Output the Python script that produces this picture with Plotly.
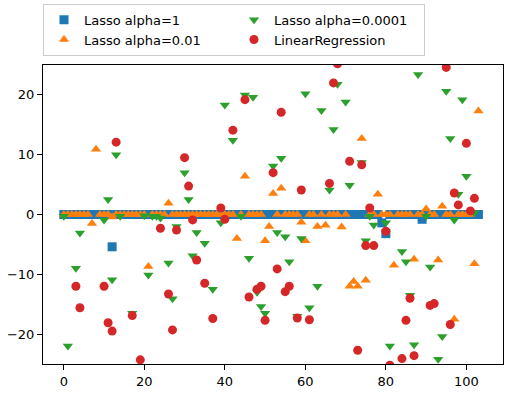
import plotly.graph_objects as go

N = None

# Coefficient values per feature index
lasso1_coef = [
    0, 0, 0, 0, 0, 0, 0, 0, 0, 0,
    0, 0, -5.4, 0, 0, 0, 0, 0, 0, 0,
    0, 0, 0, 0, 0, 0, 0, 0, 0, 0,
    0, 0, 0, 0, 0, 0, 0, 0, 0, 0,
    0, 0, 0, 0, 0, 0, 0, 0, 0, 0,
    0, 0, 0, 0, 0, 0, 0, 0, 0, 0,
    0, 0, 0, 0, 0, 0, 0, 0, 0, 0,
    0, 0, 0, 0, 0, 0, 0, 0, 0, -1.4,
    -3.2, 0, 0, 0, 0, 0, 0, 0, 0, -0.8,
    0, 0, 0, 0, 0, 0, 0, 0, 0, 0,
    0, 0, 0, 0,
]

lasso001_coef = [
    0, 0, 0, 0, 0, 0, 0, -1.5, 10.9, 0,
    0, 0, -0.4, 0, 0, 0, 0, 0, 0, 0,
    0, -8.7, 0, 0, 0, 0, 1.9, 0, 0, 0,
    0, 0, 0, 0, 0, 0, 0, 0, 0, 0,
    0, 0, 0, -4.0, 0, 6.4, 0, 0, 0, 0,
    -4.4, -2.0, 3.5, 0, 4.4, 0, 0, 0, 0, -1.3,
    -4.4, 0, 0, -2.0, 0, -1.8, 0, 0, 0, -2.1,
    0, -12.0, -11.2, -12.0, 12.7, -11.0, 0, 0, 3.4, 0,
    0, 0, -8.5, 0, 0, 0, 0, -7.5, 0, 0,
    0.9, 0, 0, -7.6, 1.4, 0, 0, -17.5, 0, 0,
    0, 0, -8.25, 17.3,
]

lasso00001_coef = [
    -0.3, -22.0, N, -9.0, -3.1, N, N, N, N, N,
    -0.9, 2.5, -10.9, 10.0, -0.3, N, N, -16.5, N, N,
    -0.2, -10.1, -0.3, -0.3, -0.6, N, -8.1, -14.1, -2.0, N,
    7.0, 2.5, -6.9, -3.0, N, -4.8, N, -12.5, N, -1.4,
    18.3, N, 12.4, N, -0.3, 20.0, -7.3, 19.6, -13.0, -15.4,
    -16.5, N, 8.1, -3.0, 9.4, -3.7, -7.9, N, -17.0, -4.0,
    20.2, -15.6, N, -12.0, 17.4, N, 4.1, 14.2, 21.8, N,
    18.8, 4.9, N, N, 8.7, -4.4, -0.3, -1.75, N, N,
    -1.4, -22.0, N, N, -6.2, -7.9, -13.5, -21.8, 23.4, N,
    -0.3, -8.8, N, -24.2, -20.4, 20.6, 12.7, -0.9, 3.4, 19.2,
    6.4, N, 0.3, N,
]

lr_coef = [
    N, N, N, -12.0, -15.6, N, N, N, N, N,
    -12.0, -18.1, -19.5, 12.1, N, N, N, -16.9, N, -24.3,
    N, N, N, N, -2.3, N, -13.3, -19.3, -2.6, N,
    9.5, 4.75, -0.9, -7.6, N, -11.5, N, -17.4, N, 1.1,
    -0.8, N, 14.1, N, N, 19.2, -13.8, N, -12.5, -12.0,
    -17.7, N, 7.0, -9.1, 17.1, -12.9, -12.0, N, -17.3, 4.1,
    N, -17.6, N, N, N, N, 5.2, 22.0, 25.2, N,
    N, 8.9, N, -22.7, 8.3, -5.2, 1.1, -5.2, N, N,
    -2.8, -25.2, N, N, -24.1, -17.7, -14.0, -23.6, N, N,
    N, -15.2, -14.9, N, N, 24.6, -18.4, 3.6, 1.6, N,
    11.9, 0.6, 2.7, N,
]

feature_index = list(range(len(lr_coef)))

x_ticks = [0, 20, 40, 60, 80, 100]
y_ticks = [-20, -10, 0, 10, 20]

series = [
    ("Lasso alpha=1", lasso1_coef, "square", "#1f77b4", 9, 1),
    ("Lasso alpha=0.01", lasso001_coef, "triangle-up", "#ff7f0e", 9, 3),
    ("Lasso alpha=0.0001", lasso00001_coef, "triangle-down", "#2ca02c", 9, 2),
    ("LinearRegression", lr_coef, "circle", "#d62728", 9, 4),
]

fig = go.Figure()
for name, vals, sym, col, sz, rank in series:
    fig.add_trace(go.Scatter(
        x=feature_index, y=vals, mode="markers", name=name,
        marker=dict(symbol=sym, size=sz, color=col, line=dict(width=0)),
        legendrank=rank,
    ))

font = dict(family="DejaVu Sans", size=13, color="black")

fig.update_layout(
    width=511, height=395, autosize=False,
    margin=dict(l=43, r=8, t=65, b=31, pad=0, autoexpand=False),
    paper_bgcolor="white", plot_bgcolor="white",
    font=font,
    showlegend=True,
    legend=dict(
        orientation="h", x=0, xanchor="left", y=1.205, yanchor="top",
        bgcolor="white", bordercolor="#cccccc", borderwidth=1,
        entrywidth=145, entrywidthmode="pixels",
        traceorder="normal", font=font,
    ),
    xaxis=dict(
        range=[-5.17, 109.1], tickvals=x_ticks, ticks="outside", ticklen=5,
        tickwidth=1, tickcolor="black", showgrid=False, zeroline=False,
        showline=True, linecolor="black", linewidth=1, mirror=True,
        tickfont=font, automargin=False,
    ),
    yaxis=dict(
        range=[-25, 25], tickvals=y_ticks, ticks="outside", ticklen=5,
        tickwidth=1, tickcolor="black", showgrid=False, zeroline=False,
        showline=True, linecolor="black", linewidth=1, mirror=True,
        tickfont=font, automargin=False,
    ),
)

fig.write_html(
    "out.html",
    config={"displayModeBar": False},
    post_script="document.body.style.margin='0';document.body.style.overflow='hidden';",
)
